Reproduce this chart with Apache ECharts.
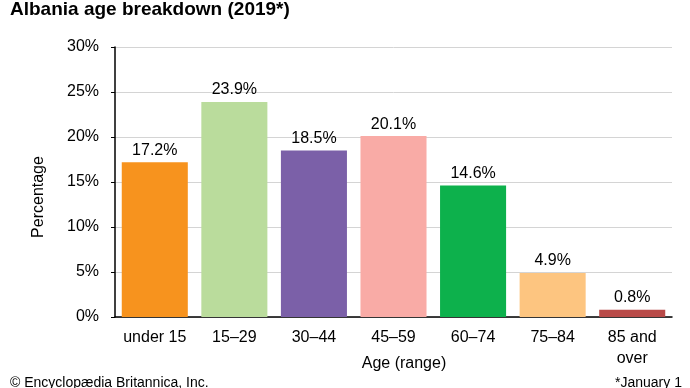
<!DOCTYPE html>
<html><head><meta charset="utf-8">
<script src="https://cdn.jsdelivr.net/npm/echarts@6/dist/echarts.min.js"></script>
<style>html,body{margin:0;padding:0;background:#fff}#c{width:690px;height:388px}</style>
</head><body><div id="c"></div>
<script>
const categories = ['under 15', '15–29', '30–44', '45–59', '60–74', '75–84', '85 and\nover'];
const values = [17.2, 23.9, 18.5, 20.1, 14.6, 4.9, 0.8];
const colors = ['#F7931E', '#BADC9C', '#7B60A8', '#F9ABA6', '#0DB14C', '#FDC580', '#B84A48'];
const yTicks = [0, 5, 10, 15, 20, 25, 30];

const chart = echarts.init(document.getElementById('c'));
const font = 'Liberation Sans, Arial, sans-serif';
chart.setOption({
  animation: false,
  textStyle: { fontFamily: font },
  title: [
    { text: 'Albania age breakdown (2019*)', left: 5, top: -5, textStyle: { fontFamily: font, fontSize: 19, fontWeight: 'bold', color: '#000' } },
    { text: '© Encyclopædia Britannica, Inc.', left: 5, top: 371, textStyle: { fontFamily: font, fontSize: 14, fontWeight: 'normal', color: '#000' } },
    { text: '*January 1', left: 610, top: 371, textStyle: { fontFamily: font, fontSize: 14, fontWeight: 'normal', color: '#000' } }
  ],
  grid: { left: 115, right: 18, top: 47, bottom: 71, outerBoundsMode: 'none' },
  xAxis: {
    type: 'category', data: categories,
    name: 'Age (range)', nameLocation: 'middle', nameGap: 39, nameMoveOverlap: false,
    nameTextStyle: { fontSize: 16, color: '#000', fontFamily: font, padding: [0, 0, 0, 21] },
    axisLine: { lineStyle: { color: '#000', width: 1.5 } },
    axisTick: { show: false },
    axisLabel: { interval: 0, hideOverlap: false, fontSize: 16, color: '#000', margin: 10, lineHeight: 21, fontFamily: font }
  },
  yAxis: {
    type: 'value', min: 0, max: 30, interval: 5,
    name: 'Percentage', nameLocation: 'middle', nameGap: 68, nameRotate: 90, nameMoveOverlap: false,
    nameTextStyle: { fontSize: 16, color: '#000', fontFamily: font, padding: [0, 30, 0, 0] },
    axisLine: { show: true, lineStyle: { color: '#000', width: 1.5 } },
    axisTick: { show: true, length: 4, lineStyle: { color: '#000' } },
    axisLabel: { fontSize: 16, color: '#000', margin: 16, fontFamily: font,
      formatter: v => yTicks.includes(v) ? v + '%' : '' },
    splitLine: { lineStyle: { color: '#d4d4d4', width: 1 } }
  },
  series: [{
    type: 'bar', barCategoryGap: '17%',
    data: values.map((v, i) => ({ value: v, itemStyle: { color: colors[i] } })),
    label: { show: true, position: 'top', distance: 4, fontSize: 16, color: '#000', fontFamily: font,
      formatter: p => p.value.toFixed(1) + '%' }
  }]
});
</script></body></html>
